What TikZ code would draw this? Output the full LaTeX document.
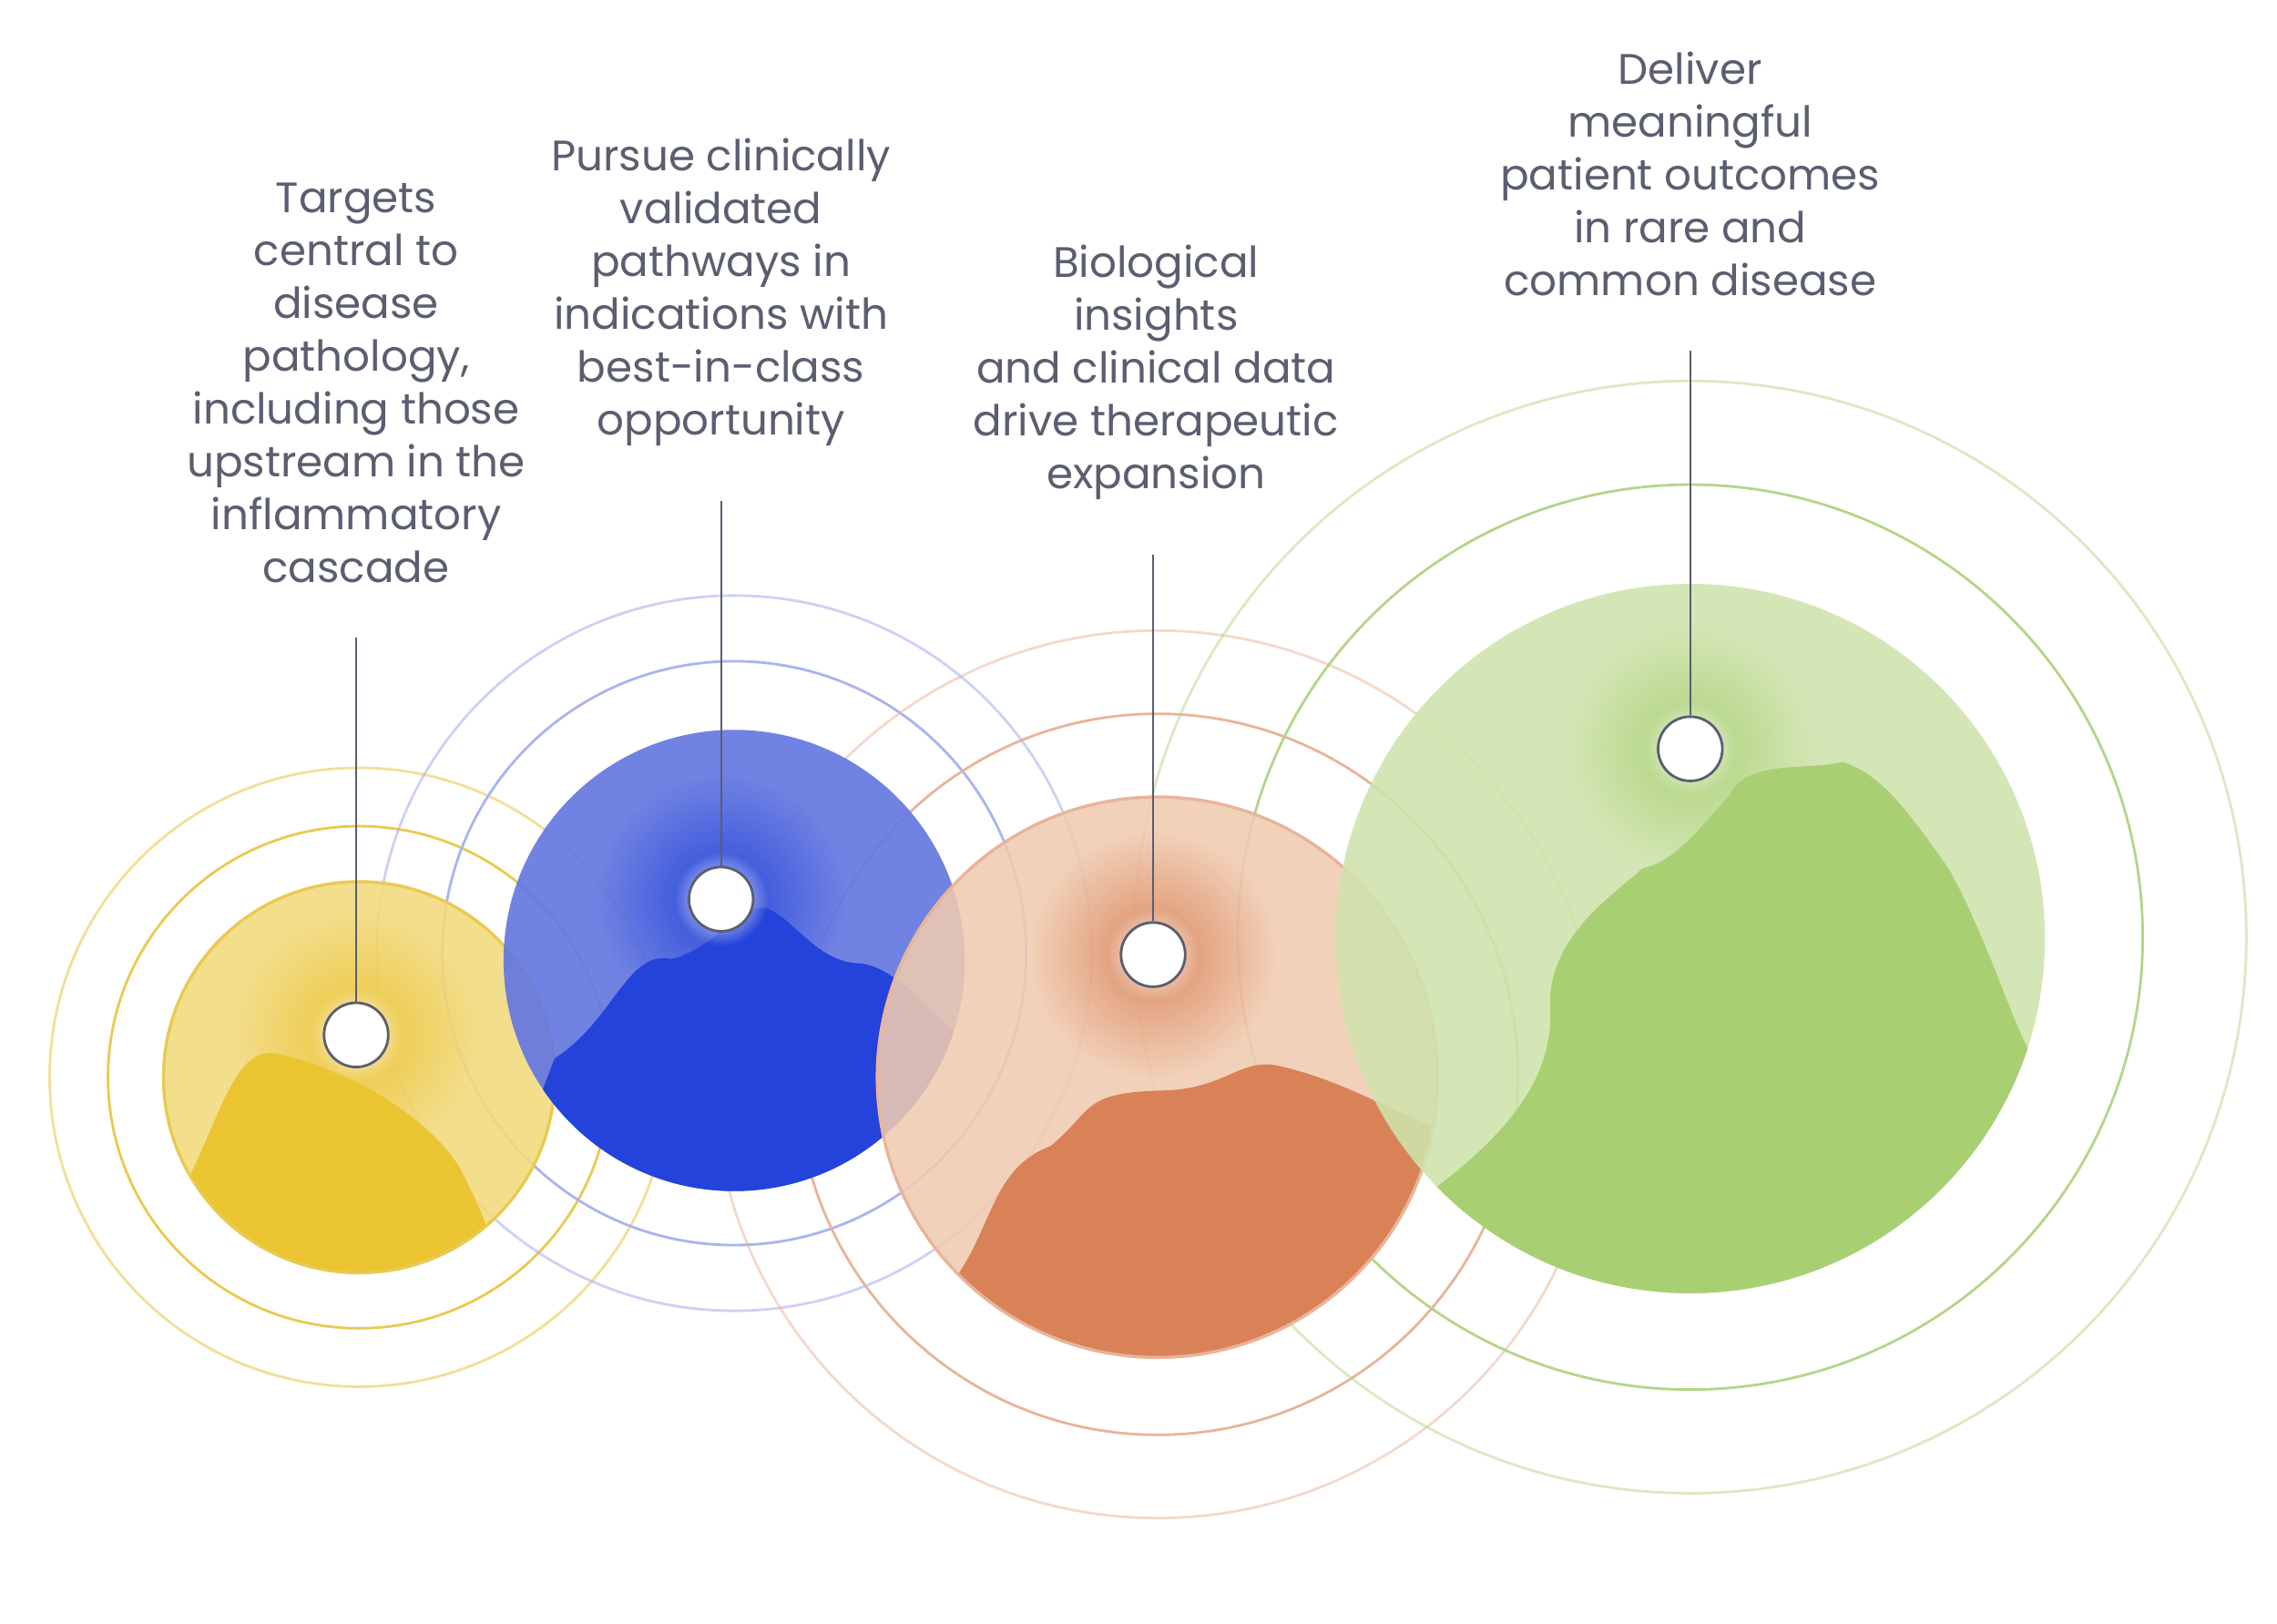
\documentclass[tikz,border=0pt]{standalone}
\usepackage{fontspec}
\setmainfont{Poppins}
\usetikzlibrary{fadings}
\tikzfading[name=glow, inner color=transparent!0, outer color=transparent!100]
\definecolor{txt}{HTML}{5A5E70}
\definecolor{yL}{HTML}{F2DA80}\definecolor{yD}{HTML}{EBC431}\definecolor{yR}{HTML}{E9CA52}
\definecolor{bL}{HTML}{6478E0}\definecolor{bD}{HTML}{2443DA}\definecolor{bR}{HTML}{AAB4EE}
\definecolor{oL}{HTML}{F0CBB0}\definecolor{oD}{HTML}{D98257}\definecolor{oR}{HTML}{E8B49A}
\definecolor{gL}{HTML}{CFE3AC}\definecolor{gD}{HTML}{A8D073}\definecolor{gR}{HTML}{B5D588}
\tikzset{
 lbl/.style={align=center,text=txt,font=\fontsize{8.3}{10.3}\selectfont,anchor=south},
 dot/.style={circle,draw=txt,line width=0.5pt,fill=white,minimum size=0.44cm,inner sep=0},
 stem/.style={draw=txt,line width=0.4pt},
 ring/.style={line width=0.5pt}
}
\begin{document}
\begin{tikzpicture}[x=0.01cm,y=-0.01cm]
\useasboundingbox (0,0) rectangle (1560,1112);
% rings
\draw[ring,yR,opacity=0.6] (246,738) circle (212); \draw[ring,yR] (246,738) circle (172);
\draw[ring,bR,opacity=0.6] (503,653) circle (245); \draw[ring,bR] (503,653) circle (200);
\draw[ring,oR,opacity=0.5] (793,736) circle (304); \draw[ring,oR] (793,736) circle (247);
\draw[ring,gR,opacity=0.5] (1158,642) circle (381); \draw[ring,gR] (1158,642) circle (310);
% yellow
\fill[yL,opacity=0.9] (246,738) circle (134);
\begin{scope}\clip (246,738) circle (134);
\fill[yD] (125,815) .. controls (150,770) and (160,715) .. (190,722) .. controls (230,730) and (290,760) .. (315,800) .. controls (330,830) and (335,840) .. (345,880) -- (100,880) -- cycle;
\end{scope}
\draw[yR,line width=0.6pt] (246,738) circle (134);
% blue
\fill[bL,opacity=0.92] (503,658) circle (158);
\begin{scope}\clip (503,658) circle (158);
\fill[bD] (380,725) .. controls (420,700) and (430,650) .. (460,657) .. controls (490,650) and (505,620) .. (525,622) .. controls (545,630) and (560,660) .. (590,660) .. controls (620,665) and (640,700) .. (670,720) -- (670,830) -- (340,830) -- cycle;
\end{scope}
% orange
\fill[oL,opacity=0.88] (793,738) circle (192);
\begin{scope}\clip (793,738) circle (192);
\fill[oD] (655,875) .. controls (680,840) and (680,800) .. (720,785) .. controls (750,760) and (740,748) .. (800,747) .. controls (840,745) and (850,725) .. (875,730) .. controls (920,740) and (950,760) .. (990,775) -- (990,940) -- (600,940) -- cycle;
\end{scope}
\draw[oR,line width=0.6pt] (793,738) circle (192);
% green
\fill[gL,opacity=0.88] (1158,643) circle (243);
\begin{scope}\clip (1158,643) circle (243);
\fill[gD] (975,820) .. controls (1030,780) and (1065,740) .. (1062,690) .. controls (1060,640) and (1110,610) .. (1125,595) .. controls (1150,590) and (1170,560) .. (1185,545) .. controls (1195,520) and (1240,528) .. (1262,522) .. controls (1290,530) and (1310,560) .. (1335,595) .. controls (1360,640) and (1375,690) .. (1390,720) -- (1410,900) -- (960,900) -- cycle;
\end{scope}
% glows
\foreach \x/\y/\c in {244/709/yD,494/616/bD,790/654/oD,1158/513/gD}{
 \fill[\c,path fading=glow,opacity=0.9] (\x,\y) circle (85);
 \fill[white,path fading=glow] (\x,\y) circle (32);
}
% labels, stems, dots
\node[lbl] (ty) at (244,412) {Targets\\central to\\disease\\pathology,\\including those\\upstream in the\\inflammatory\\cascade};
\node[lbl] (tb) at (494,318) {Pursue clinically\\validated\\pathways in\\indications with\\best-in-class\\opportunity};
\node[lbl] (to) at (792,355) {Biological\\insights\\and clinical data\\drive therapeutic\\expansion};
\node[lbl] (tg) at (1158,215) {Deliver\\meaningful\\patient outcomes\\in rare and\\common disease};
\node[dot] (dy) at (244,709) {}; \node[dot] (db) at (494,616) {};
\node[dot] (do) at (790,654) {}; \node[dot] (dg) at (1158,513) {};
\coordinate (sy) at (244,437); \coordinate (sb) at (494,343);
\coordinate (so) at (790,380); \coordinate (sg) at (1158,240);
\draw[stem] (sy) -- (dy); \draw[stem] (sb) -- (db);
\draw[stem] (so) -- (do); \draw[stem] (sg) -- (dg);
\end{tikzpicture}
\end{document}
